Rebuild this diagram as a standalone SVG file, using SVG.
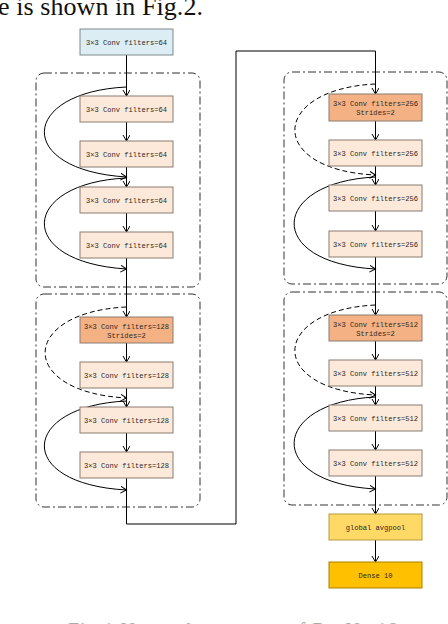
<svg xmlns="http://www.w3.org/2000/svg" width="448" height="624" viewBox="0 0 448 624">
<defs>
<marker id="arr" markerUnits="userSpaceOnUse" markerWidth="8" markerHeight="8" refX="6" refY="3.5" orient="auto">
<path d="M0,0 L6,3.5 L0,7" fill="none" stroke="#000" stroke-width="1"/>
</marker>
<style>
.box{stroke:#8a7c70;stroke-width:1}
.inp{fill:#dcedf3;stroke:#7e8a90}
.norm{fill:#fce9da}
.strd{fill:#f4b183}
.pool{fill:#ffd966;stroke:#b89a40}
.dense{fill:#ffc000;stroke:#a88000}
.t{font-family:"Liberation Mono",monospace;font-size:7.1px;fill:#2e2a26;text-anchor:middle}
.blk{fill:none;stroke:#333;stroke-width:1;stroke-dasharray:8,3,2,3}
.ln{fill:none;stroke:#000;stroke-width:1}
.dsh{fill:none;stroke:#000;stroke-width:1;stroke-dasharray:5,3}
.cap{font-family:"Liberation Serif",serif}
</style>
</defs>
<rect width="448" height="624" fill="#fff"/>
<text class="cap" x="-2" y="15" font-size="26" fill="#111" textLength="205">e is shown in Fig.2.</text>
<text class="cap" x="68" y="637" font-size="20" fill="#aaa" textLength="330">Fig.1   Network structure of ResNet18</text>

<g id="blocks">
<rect class="blk" x="36" y="73" width="164" height="214" rx="8"/>
<rect class="blk" x="36" y="294" width="164" height="213" rx="8"/>
<rect class="blk" x="284" y="72" width="163" height="212" rx="8"/>
<rect class="blk" x="284" y="292" width="163" height="213" rx="8"/>
</g>

<g id="connectors">
<path class="ln" d="M126.5,55 V96" marker-end="url(#arr)"/>
<path class="ln" d="M126.5,122 V141" marker-end="url(#arr)"/>
<path class="ln" d="M126.5,167 V187" marker-end="url(#arr)"/>
<path class="ln" d="M126.5,213 V232" marker-end="url(#arr)"/>
<path class="ln" d="M126.5,258 V317" marker-end="url(#arr)"/>
<path class="ln" d="M126.5,343 V362" marker-end="url(#arr)"/>
<path class="ln" d="M126.5,388 V407" marker-end="url(#arr)"/>
<path class="ln" d="M126.5,433 V452" marker-end="url(#arr)"/>
<path class="ln" d="M126.5,478 V524 H236 V51 H375.5 V94" marker-end="url(#arr)"/>
<path class="ln" d="M375.5,121 V140" marker-end="url(#arr)"/>
<path class="ln" d="M375.5,166 V185" marker-end="url(#arr)"/>
<path class="ln" d="M375.5,211 V231" marker-end="url(#arr)"/>
<path class="ln" d="M375.5,257 V315" marker-end="url(#arr)"/>
<path class="ln" d="M375.5,341 V360" marker-end="url(#arr)"/>
<path class="ln" d="M375.5,386 V405" marker-end="url(#arr)"/>
<path class="ln" d="M375.5,431 V450" marker-end="url(#arr)"/>
<path class="ln" d="M375.5,476 V514" marker-end="url(#arr)"/>
<path class="ln" d="M375.5,540 V562" marker-end="url(#arr)"/>
<path class="ln" d="M126.5,87 C20,92 14,170 126.5,177" marker-end="url(#arr)"/>
<path class="ln" d="M126.5,178 C20,183 14,262 126.5,269" marker-end="url(#arr)"/>
<path class="dsh" d="M126.5,307 C20,312 16,392 126.5,398" marker-end="url(#arr)"/>
<path class="ln" d="M126.5,401 C20,406 14,484 126.5,490" marker-end="url(#arr)"/>
<path class="dsh" d="M375.5,84 C270,89 266,170 375.5,175" marker-end="url(#arr)"/>
<path class="ln" d="M375.5,177 C270,182 264,263 375.5,269" marker-end="url(#arr)"/>
<path class="dsh" d="M375.5,305 C270,310 266,390 375.5,395" marker-end="url(#arr)"/>
<path class="ln" d="M375.5,397 C270,402 264,483 375.5,489" marker-end="url(#arr)"/>
</g>

<g id="n0"><rect class="box inp" x="80" y="29" width="93" height="26"/><text class="t" x="126.5" y="44.5">3×3 Conv filters=64</text></g>
<g id="n1"><rect class="box norm" x="80" y="96" width="93" height="26"/><text class="t" x="126.5" y="111.5">3×3 Conv filters=64</text></g>
<g id="n2"><rect class="box norm" x="80" y="141" width="93" height="26"/><text class="t" x="126.5" y="156.5">3×3 Conv filters=64</text></g>
<g id="n3"><rect class="box norm" x="80" y="187" width="93" height="26"/><text class="t" x="126.5" y="202.5">3×3 Conv filters=64</text></g>
<g id="n4"><rect class="box norm" x="80" y="232" width="93" height="26"/><text class="t" x="126.5" y="247.5">3×3 Conv filters=64</text></g>
<g id="n5"><rect class="box strd" x="80" y="317" width="93" height="26"/><text class="t" x="126.5" y="328.5">3×3 Conv filters=128</text><text class="t" x="126.5" y="338">Strides=2</text></g>
<g id="n6"><rect class="box norm" x="80" y="362" width="93" height="26"/><text class="t" x="126.5" y="377.5">3×3 Conv filters=128</text></g>
<g id="n7"><rect class="box norm" x="80" y="407" width="93" height="26"/><text class="t" x="126.5" y="422.5">3×3 Conv filters=128</text></g>
<g id="n8"><rect class="box norm" x="80" y="452" width="93" height="26"/><text class="t" x="126.5" y="467.5">3×3 Conv filters=128</text></g>

<g id="n9"><rect class="box strd" x="329" y="94" width="93" height="27"/><text class="t" x="375.5" y="105.5">3×3 Conv filters=256</text><text class="t" x="375.5" y="115">Strides=2</text></g>
<g id="n10"><rect class="box norm" x="329" y="140" width="93" height="26"/><text class="t" x="375.5" y="155.5">3×3 Conv filters=256</text></g>
<g id="n11"><rect class="box norm" x="329" y="185" width="93" height="26"/><text class="t" x="375.5" y="200.5">3×3 Conv filters=256</text></g>
<g id="n12"><rect class="box norm" x="329" y="231" width="93" height="26"/><text class="t" x="375.5" y="246.5">3×3 Conv filters=256</text></g>
<g id="n13"><rect class="box strd" x="329" y="315" width="93" height="26"/><text class="t" x="375.5" y="326.5">3×3 Conv filters=512</text><text class="t" x="375.5" y="336">Strides=2</text></g>
<g id="n14"><rect class="box norm" x="329" y="360" width="93" height="26"/><text class="t" x="375.5" y="375.5">3×3 Conv filters=512</text></g>
<g id="n15"><rect class="box norm" x="329" y="405" width="93" height="26"/><text class="t" x="375.5" y="420.5">3×3 Conv filters=512</text></g>
<g id="n16"><rect class="box norm" x="329" y="450" width="93" height="26"/><text class="t" x="375.5" y="465.5">3×3 Conv filters=512</text></g>
<g id="n17"><rect class="box pool" x="329" y="514" width="93" height="26"/><text class="t" x="375.5" y="529.5">global avgpool</text></g>
<g id="n18"><rect class="box dense" x="329" y="562" width="93" height="26"/><text class="t" x="375.5" y="577.5">Dense 10</text></g>
</svg>
